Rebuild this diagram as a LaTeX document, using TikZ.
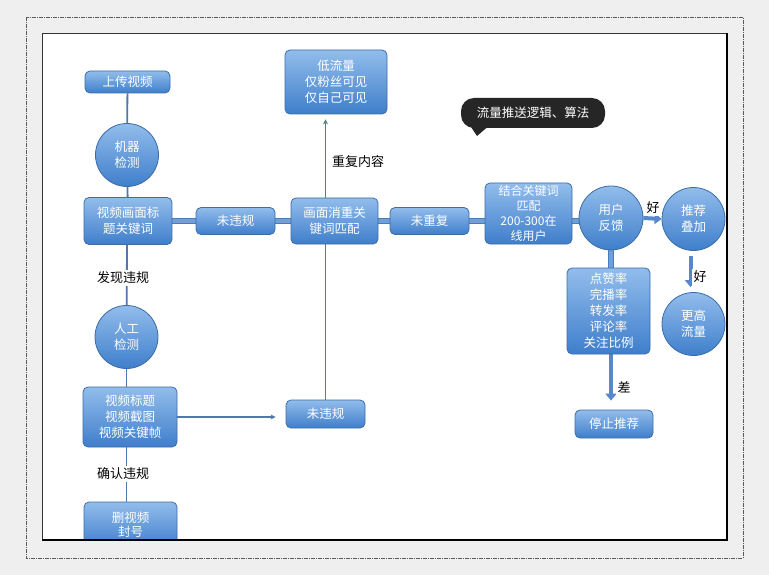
\documentclass[tikz,border=0pt]{standalone}
\usepackage{fontspec}
\newfontfamily\cjk{Noto Sans CJK SC}
\usetikzlibrary{arrows.meta,shadows,calc}
\definecolor{bgc}{HTML}{EFEFEF}
\definecolor{boxtop}{HTML}{92BDEC}
\definecolor{boxbot}{HTML}{3F7ECB}
\definecolor{boxdraw}{HTML}{3C6DA6}
\definecolor{linec}{HTML}{5079AA}
\definecolor{barin}{HTML}{6FA0DC}
\definecolor{bardraw}{HTML}{4A7DB8}
\definecolor{arrc}{HTML}{5589CC}
\definecolor{calloutc}{HTML}{262626}
\pgfdeclarelayer{bglayer}
\pgfdeclarelayer{connlayer}
\pgfsetlayers{bglayer,connlayer,main}
\tikzset{
  boxnode/.style={rectangle, rounded corners=5pt, draw=boxdraw, line width=0.8pt,
    top color=boxtop, bottom color=boxbot, text=white,
    font=\cjk\fontsize{12.5}{16}\selectfont, align=center, inner sep=0pt},
  circnode/.style={circle, draw=boxdraw, line width=0.8pt,
    top color=boxtop, bottom color=boxbot, text=white,
    font=\cjk\fontsize{12.5}{16}\selectfont, align=center, inner sep=0pt,
    minimum size=63pt},
  lbl/.style={font=\cjk\fontsize{13}{15}\selectfont, text=black, fill=white, inner sep=2pt},
  thinl/.style={draw=linec, line width=1.8pt},
  thinarrow/.style={draw=linec, line width=1.8pt, -{Stealth[length=5pt,width=5pt]}},
  barline/.style={draw=bardraw, line width=0.9pt, double=barin, double distance=4.5pt},
  bigarrow/.style={draw=arrc, line width=4pt, -{Triangle[length=7pt,width=11pt]}},
}
\begin{document}
\begin{tikzpicture}[x=1pt,y=-1pt]
\useasboundingbox (0,0) rectangle (769,575);
\begin{pgfonlayer}{bglayer}
  \fill[bgc] (0,0) rectangle (769,575);
  \draw[black!65, line width=0.9pt, dash pattern=on 4pt off 1pt on 1pt off 1pt] (26,17) rectangle (743,558);
  \fill[white] (42,33) rectangle (727,540);
\end{pgfonlayer}

% nodes
\node[boxnode, minimum width=85pt, minimum height=22pt] (up) at (127.5,82) {上传视频};
\node[circnode] (mach) at (127,155) {机器\\检测};
\node[boxnode, minimum width=88pt, minimum height=47pt] (kw) at (128,221) {视频画面标\\题关键词};
\node[boxnode, minimum width=79pt, minimum height=27pt] (ok1) at (235.5,221) {未违规};
\node[boxnode, minimum width=87pt, minimum height=46pt] (dedup) at (334.5,221) {画面消重关\\键词匹配};
\node[boxnode, minimum width=102pt, minimum height=64pt] (low) at (336,82) {低流量\\仅粉丝可见\\仅自己可见};
\node[boxnode, minimum width=79pt, minimum height=27pt] (norep) at (429.5,221) {未重复};
\node[boxnode, minimum width=87pt, minimum height=61pt, font=\cjk\fontsize{12}{15}\selectfont] (match) at (528.5,213.5) {结合关键词\\匹配\\200-300在\\线用户};
\node[circnode, minimum size=64pt] (fb) at (611,218) {用户\\反馈};
\node[circnode] (rec) at (693.5,219) {推荐\\叠加};
\node[circnode] (higher) at (693.5,324) {更高\\流量};
\node[boxnode, minimum width=83pt, minimum height=86pt] (metrics) at (608.5,311) {点赞率\\完播率\\转发率\\评论率\\关注比例};
\node[boxnode, minimum width=78pt, minimum height=28pt] (stop) at (614,424) {停止推荐};
\node[circnode] (manual) at (126.5,337) {人工\\检测};
\node[boxnode, minimum width=94pt, minimum height=60pt] (shot) at (130,417) {视频标题\\视频截图\\视频关键帧};
\node[boxnode, minimum width=79pt, minimum height=28pt] (ok2) at (325.5,414) {未违规};
\begin{scope}
  \clip (42,33) rectangle (727,540);
  \node[boxnode, minimum width=93pt, minimum height=46pt, font=\cjk\fontsize{12.5}{14}\selectfont] (del) at (130.5,525) {删视频\\封号};
\end{scope}

% callout
\node[fill=calloutc, rounded corners=13pt, minimum width=144pt, minimum height=30pt,
  text=white, font=\cjk\fontsize{12.5}{15}\selectfont, inner sep=0pt] (algo) at (533,113) {流量推送逻辑、算法};
\fill[calloutc] (469,124) -- (477,136) -- (491,124) -- cycle;

% labels
\node[lbl] (l1) at (123,278) {发现违规};
\node[lbl] (l2) at (123,474) {确认违规};
\node[lbl] (l3) at (358,162) {重复内容};
\node[lbl] (l4) at (653,208) {好};
\node[lbl] (l5) at (700,277) {好};
\node[lbl] (l6) at (624,387) {差};

% connectors
\begin{pgfonlayer}{connlayer}
  \draw[thinl] (up) -- (mach);
  \draw[thinl] (mach) -- (kw);
  \draw[thinl] (kw.south -| mach) -- (manual);
  \draw[thinl] (manual) -- (manual |- shot.north);
  \draw[thinl] (shot.south -| manual) -- (manual |- del.north);
  \draw[thinarrow, shorten >=10pt] (shot.east) -- (shot.east -| ok2.west);
  \draw[thinl] (ok2.north) -- (ok2.north |- dedup.south);
  \draw[thinarrow, shorten >=5pt] (ok2.north |- dedup.north) -- (ok2.north |- low.south);
  \draw[barline] (kw.east) -- (ok1.west);
  \draw[barline] (ok1.east) -- (dedup.west);
  \draw[barline] (dedup.east) -- (norep.west);
  \draw[barline] (norep.east) -- (norep.east -| match.west);
  \draw[barline] (match.east |- kw) -- (fb.center |- kw);
  \draw[barline] (fb.center) -- (fb.center |- metrics.north);
  \draw[bigarrow] (fb.east) -- (rec.west);
  \draw[bigarrow, shorten <=5pt, shorten >=5pt] ($(rec.south)+(-3,0)$) -- ($(higher.north)+(-3,0)$);
  \draw[bigarrow, shorten >=9pt] (fb.center |- metrics.south) -- (fb.center |- stop.north);
\end{pgfonlayer}

% frame border
\draw[black!80, line width=0.8pt] (42,540) -- (42,33) -- (727,33);
\draw[black, line width=2.2pt] (42,540) -- (727,540) -- (727,33);
\end{tikzpicture}
\end{document}
